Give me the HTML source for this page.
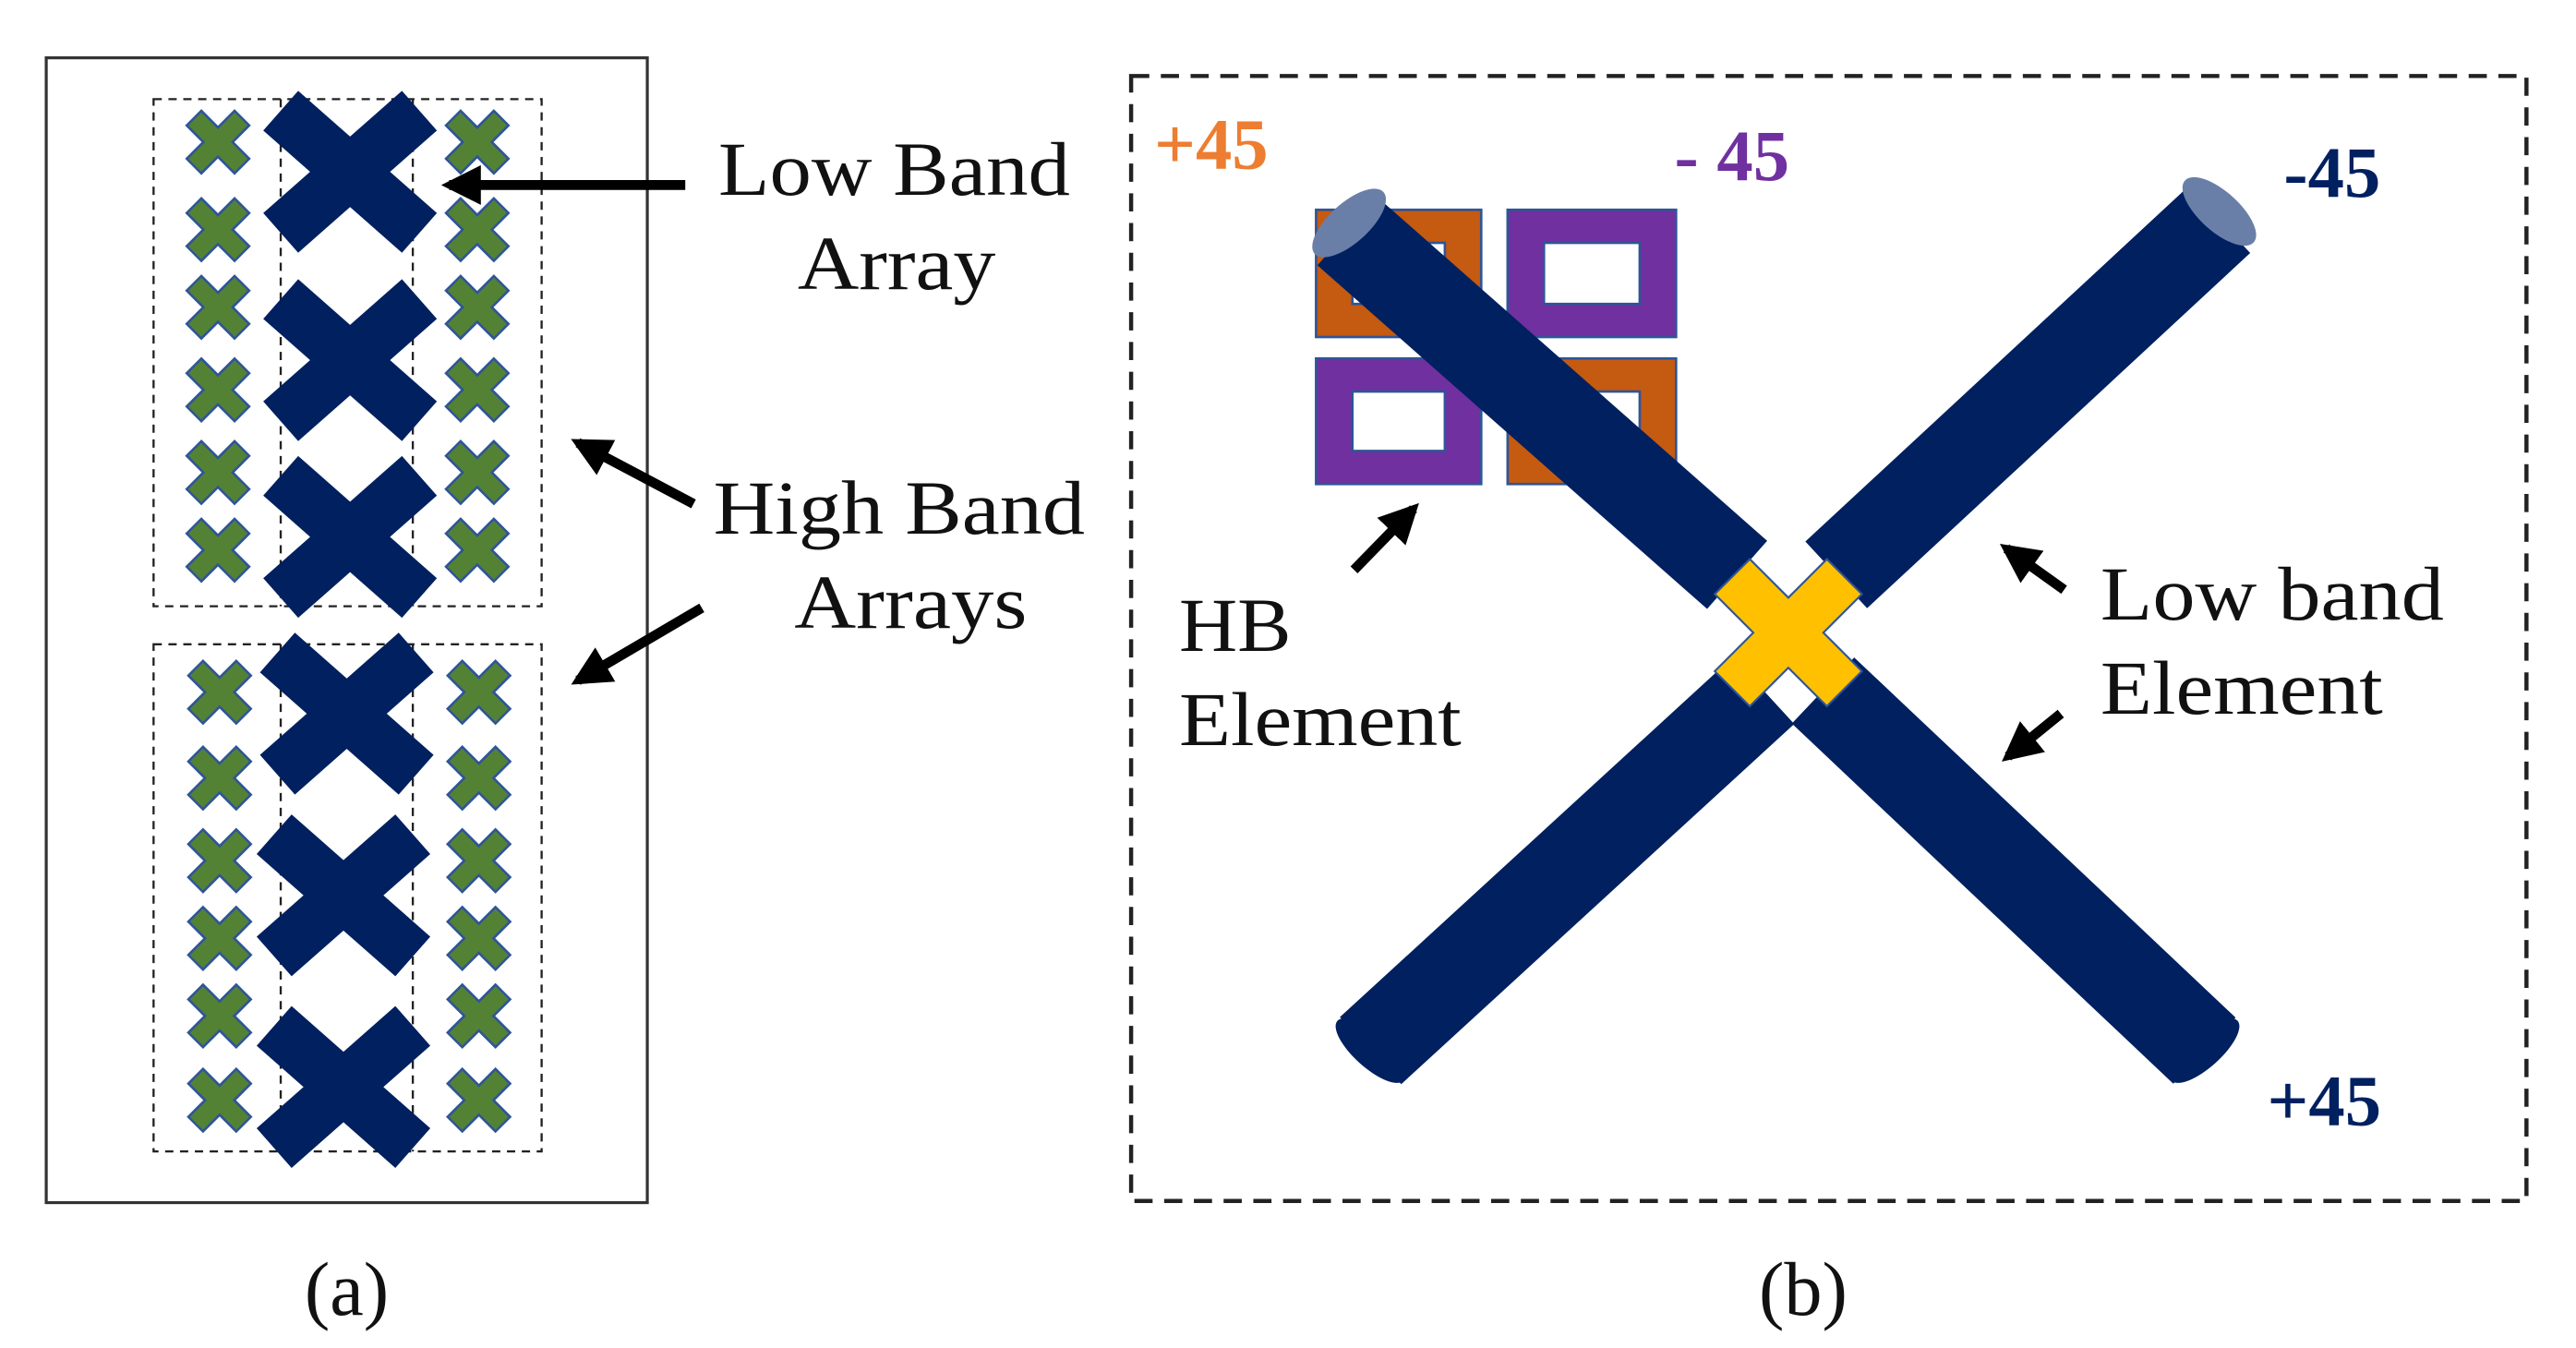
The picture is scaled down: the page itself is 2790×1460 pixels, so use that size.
<!DOCTYPE html>
<html><head><meta charset="utf-8"><style>html,body{margin:0;padding:0;background:#fff;}svg{display:block}</style></head>
<body>
<svg width="2790" height="1460" viewBox="0 0 1560 816" preserveAspectRatio="none" xmlns="http://www.w3.org/2000/svg">
<defs>
<marker id="ah" viewBox="0 0 10 10" refX="8" refY="5" markerWidth="4" markerHeight="4" orient="auto" markerUnits="strokeWidth">
<path d="M0,0 L10,5 L0,10 z" fill="#000"/></marker>
<g id="bx"><line x1="-42" y1="-37" x2="42" y2="37" stroke="#002060" stroke-width="32"/><line x1="42" y1="-37" x2="-42" y2="37" stroke="#002060" stroke-width="32"/></g>
<g id="sx"><line x1="-15" y1="-15" x2="15" y2="15" stroke="#2F5597" stroke-width="14"/><line x1="15" y1="-15" x2="-15" y2="15" stroke="#2F5597" stroke-width="14"/><line x1="-14" y1="-14" x2="14" y2="14" stroke="#548235" stroke-width="11"/><line x1="14" y1="-14" x2="-14" y2="14" stroke="#548235" stroke-width="11"/></g>
</defs>
<rect x="28" y="35" width="364" height="693" fill="none" stroke="#333" stroke-width="1.8"/>
<g fill="none" stroke="#222" stroke-width="1.3" stroke-dasharray="5,4">
<rect x="93" y="60" width="235" height="307"/>
<rect x="93" y="390" width="235" height="307"/>
<line x1="170" y1="60" x2="170" y2="367"/><line x1="250" y1="60" x2="250" y2="367"/>
<line x1="170" y1="390" x2="170" y2="697"/><line x1="250" y1="390" x2="250" y2="697"/>
</g>
<use href="#sx" x="132" y="86"/><use href="#sx" x="132" y="139"/><use href="#sx" x="132" y="186"/><use href="#sx" x="132" y="236"/><use href="#sx" x="132" y="286"/><use href="#sx" x="132" y="333"/>
<use href="#sx" x="289" y="86"/><use href="#sx" x="289" y="139"/><use href="#sx" x="289" y="186"/><use href="#sx" x="289" y="236"/><use href="#sx" x="289" y="286"/><use href="#sx" x="289" y="333"/>
<use href="#sx" x="133" y="419"/><use href="#sx" x="133" y="471"/><use href="#sx" x="133" y="521"/><use href="#sx" x="133" y="568"/><use href="#sx" x="133" y="615"/><use href="#sx" x="133" y="666"/>
<use href="#sx" x="290" y="419"/><use href="#sx" x="290" y="471"/><use href="#sx" x="290" y="521"/><use href="#sx" x="290" y="568"/><use href="#sx" x="290" y="615"/><use href="#sx" x="290" y="666"/>
<use href="#bx" x="212" y="104"/><use href="#bx" x="212" y="218"/><use href="#bx" x="212" y="325"/>
<use href="#bx" x="210" y="432"/><use href="#bx" x="208" y="542"/><use href="#bx" x="208" y="658"/>
<g stroke="#000" stroke-width="6" marker-end="url(#ah)">
<line x1="415" y1="112" x2="272" y2="112"/>
<line x1="420" y1="305" x2="350" y2="268"/>
<line x1="425" y1="368" x2="350" y2="412"/>
</g>
<g font-family="Liberation Serif, serif" font-size="46" fill="#111">
<text x="435" y="118" textLength="213" lengthAdjust="spacingAndGlyphs">Low Band</text>
<text x="483" y="175" textLength="120" lengthAdjust="spacingAndGlyphs">Array</text>
<text x="432" y="323" textLength="225" lengthAdjust="spacingAndGlyphs">High Band</text>
<text x="481" y="380" textLength="141" lengthAdjust="spacingAndGlyphs">Arrays</text>
<text x="210" y="796" text-anchor="middle">(a)</text><text x="1092" y="796" text-anchor="middle">(b)</text>
</g>
<rect x="685" y="46" width="845" height="681" fill="none" stroke="#222" stroke-width="2.5" stroke-dasharray="11,7"/>
<g stroke="#2F5597" stroke-width="1.5">
<rect x="797" y="127" width="100" height="77" fill="#C55A11"/>
<rect x="913" y="127" width="102" height="77" fill="#7030A0"/>
<rect x="797" y="217" width="100" height="76" fill="#7030A0"/>
<rect x="913" y="217" width="102" height="76" fill="#C55A11"/>
<g fill="#fff"><rect x="819" y="147" width="56" height="37"/><rect x="935" y="147" width="58" height="37"/><rect x="819" y="237" width="56" height="36"/><rect x="935" y="237" width="58" height="36"/></g>
</g>
<g stroke="#002060" stroke-width="55" stroke-linecap="butt">
<line x1="816" y1="140" x2="1052" y2="348"/>
<line x1="1344" y1="133" x2="1112" y2="348"/>
<line x1="830" y1="636" x2="1068" y2="418"/>
<line x1="1335" y1="636" x2="1104" y2="418"/>
</g>
<g fill="#002060">
<ellipse cx="830" cy="636" rx="27" ry="10" transform="rotate(42 830 636)"/>
<ellipse cx="1335" cy="636" rx="27" ry="10" transform="rotate(-42 1335 636)"/>
</g>
<ellipse cx="817" cy="135" rx="28" ry="12" transform="rotate(-42 817 135)" fill="#6A7FA8"/>
<ellipse cx="1344" cy="128" rx="28" ry="12" transform="rotate(42 1344 128)" fill="#6A7FA8"/>
<g transform="translate(1083 383) rotate(45)" fill="#FFC000" stroke="#2F5597" stroke-width="1.2">
<path d="M-15,-48 H15 V-15 H48 V15 H15 V48 H-15 V15 H-48 V-15 H-15 Z"/>
</g>
<g font-family="Liberation Serif, serif" font-weight="bold" font-size="44">
<text x="699" y="102" fill="#ED7D31">+45</text>
<text x="1014" y="109" fill="#7030A0">- 45</text>
<text x="1383" y="119" fill="#002060">-45</text>
<text x="1373" y="681" fill="#002060">+45</text>
</g>
<g font-family="Liberation Serif, serif" font-size="46" fill="#111">
<text x="714" y="394" textLength="68" lengthAdjust="spacingAndGlyphs">HB</text>
<text x="714" y="451" textLength="171" lengthAdjust="spacingAndGlyphs">Element</text>
<text x="1272" y="375" textLength="208" lengthAdjust="spacingAndGlyphs">Low band</text>
<text x="1272" y="432" textLength="171" lengthAdjust="spacingAndGlyphs">Element</text>
</g>
<g stroke="#000" stroke-width="6" marker-end="url(#ah)">
<line x1="820" y1="345" x2="856" y2="308"/>
<line x1="1250" y1="357" x2="1215" y2="332"/>
<line x1="1248" y1="432" x2="1216" y2="458"/>
</g>
</svg>
</body></html>
